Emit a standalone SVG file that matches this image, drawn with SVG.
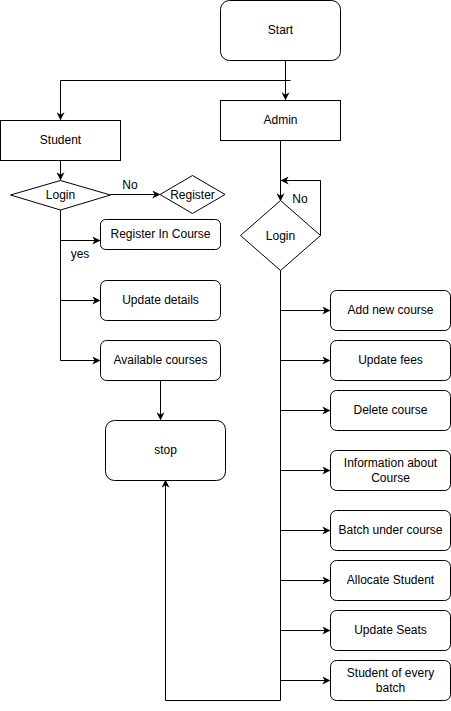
<svg xmlns="http://www.w3.org/2000/svg" width="451" height="711" viewBox="0 0 451 711">
<style>
.n{fill:#fff;stroke:#000;stroke-width:1}
.c{fill:none;stroke:#000;stroke-width:1}
text{font-family:"Liberation Sans",Arial,sans-serif;font-size:12px;fill:#000;text-anchor:middle;dominant-baseline:central}
.l{text-anchor:start}
</style>
<defs>
<marker id="a" viewBox="0 0 10 10" refX="9" refY="5" markerWidth="8" markerHeight="8" markerUnits="userSpaceOnUse" orient="auto">
<path d="M0,0 L10,5 L0,10 L3,5 Z" fill="#000"/>
</marker>
</defs>
<rect width="451" height="711" fill="#fff"/>
<g id="connectors">
<path class="c" d="M285.5,60.5 V99.5" marker-end="url(#a)"/>
<path class="c" d="M290.5,80.5 H60.5 V119.5" marker-end="url(#a)"/>
<path class="c" d="M60.5,150 V179.5" marker-end="url(#a)"/>
<path class="c" d="M110.5,194.5 H159.5" marker-end="url(#a)"/>
<path class="c" d="M60.5,210 V360.5 H99.5" marker-end="url(#a)"/>
<path class="c" d="M60.5,240.5 H99.5" marker-end="url(#a)"/>
<path class="c" d="M60.5,300.5 H99.5" marker-end="url(#a)"/>
<path class="c" d="M160.5,380.5 V419.5" marker-end="url(#a)"/>
<path class="c" d="M280.5,140.5 V200.5" marker-end="url(#a)"/>
<path class="c" d="M320.5,235.5 V180.5 H281.5" marker-end="url(#a)"/>
<path class="c" d="M280.5,270 V700.5 H165.5 V480.5" marker-end="url(#a)"/>
<path class="c" d="M280.5,310.5 H329.5" marker-end="url(#a)"/>
<path class="c" d="M280.5,360.5 H329.5" marker-end="url(#a)"/>
<path class="c" d="M280.5,410.5 H329.5" marker-end="url(#a)"/>
<path class="c" d="M280.5,470.5 H329.5" marker-end="url(#a)"/>
<path class="c" d="M280.5,530.5 H329.5" marker-end="url(#a)"/>
<path class="c" d="M280.5,580.5 H329.5" marker-end="url(#a)"/>
<path class="c" d="M280.5,630.5 H329.5" marker-end="url(#a)"/>
<path class="c" d="M280.5,680.5 H329.5" marker-end="url(#a)"/>
<text x="130" y="185">No</text>
<text x="80" y="254">yes</text>
<text x="300" y="199">No</text>
</g>
<g id="start"><rect class="n" x="220.5" y="0.5" width="120" height="60" rx="9"/><text x="280.5" y="30">Start</text></g>
<g id="admin"><rect class="n" x="220.5" y="100.5" width="120" height="40"/><text x="280.5" y="120">Admin</text></g>
<g id="student"><rect class="n" x="0.5" y="120.5" width="120" height="40"/><text x="60.5" y="140">Student</text></g>
<g id="student-login"><polygon class="n" points="60.5,180.5 110.5,195 60.5,210 10.5,195"/><text x="60.5" y="195">Login</text></g>
<g id="register"><polygon class="n" points="192.5,175.5 225,194.5 192.5,213.5 160,194.5"/><text x="192.5" y="194.5">Register</text></g>
<g id="register-course"><rect class="n" x="100.5" y="219.5" width="120" height="30" rx="5"/><text x="160.5" y="234">Register In Course</text></g>
<g id="update-details"><rect class="n" x="100.5" y="280.5" width="120" height="40" rx="6"/><text x="160.5" y="300">Update details</text></g>
<g id="available-courses"><rect class="n" x="100.5" y="340.5" width="120" height="40" rx="6"/><text x="160.5" y="360">Available courses</text></g>
<g id="stop"><rect class="n" x="105.5" y="420.5" width="120" height="60" rx="9"/><text x="165.5" y="450">stop</text></g>
<g id="admin-login"><polygon class="n" points="280.5,200.5 320.5,235.5 280.5,270.5 240.5,235.5"/><text x="280.5" y="235.5">Login</text></g>
<g id="add-course"><rect class="n" x="330.5" y="290.5" width="120" height="40" rx="6"/><text x="390.5" y="310">Add new course</text></g>
<g id="update-fees"><rect class="n" x="330.5" y="340.5" width="120" height="40" rx="6"/><text x="390.5" y="360">Update fees</text></g>
<g id="delete-course"><rect class="n" x="330.5" y="390.5" width="120" height="40" rx="6"/><text x="390.5" y="410">Delete course</text></g>
<g id="info-course"><rect class="n" x="330.5" y="450.5" width="120" height="40" rx="6"/><text x="390.5" y="463">Information about</text><text x="390.5" y="478">Course</text></g>
<g id="batch-course"><rect class="n" x="330.5" y="510.5" width="120" height="40" rx="6"/><text x="390.5" y="530">Batch under course</text></g>
<g id="allocate"><rect class="n" x="330.5" y="560.5" width="120" height="40" rx="6"/><text x="390.5" y="580">Allocate Student</text></g>
<g id="update-seats"><rect class="n" x="330.5" y="610.5" width="120" height="40" rx="6"/><text x="390.5" y="630">Update Seats</text></g>
<g id="student-batch"><rect class="n" x="330.5" y="660.5" width="120" height="40" rx="6"/><text x="390.5" y="673">Student of every</text><text x="390.5" y="688">batch</text></g>
</svg>
